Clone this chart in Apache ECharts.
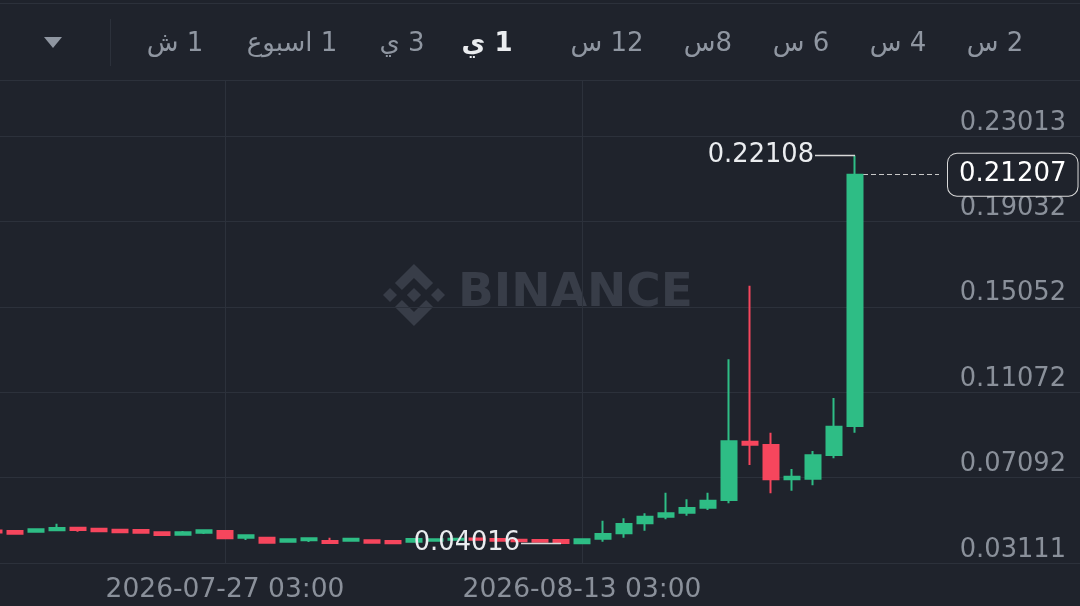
<!DOCTYPE html>
<html><head><meta charset="utf-8">
<script src="https://cdn.jsdelivr.net/npm/echarts@6/dist/echarts.min.js"></script>
<style>html,body{margin:0;padding:0;background:#1f232c}#c{width:1080px;height:606px}</style>
</head><body><div id="c"></div>
<script>
// ---- data ----
const dates = [
 '2026-07-16 03:00','2026-07-17 03:00','2026-07-18 03:00','2026-07-19 03:00','2026-07-20 03:00','2026-07-21 03:00',
 '2026-07-22 03:00','2026-07-23 03:00','2026-07-24 03:00','2026-07-25 03:00','2026-07-26 03:00','2026-07-27 03:00',
 '2026-07-28 03:00','2026-07-29 03:00','2026-07-30 03:00','2026-07-31 03:00','2026-08-01 03:00','2026-08-02 03:00',
 '2026-08-03 03:00','2026-08-04 03:00','2026-08-05 03:00','2026-08-06 03:00','2026-08-07 03:00','2026-08-08 03:00',
 '2026-08-09 03:00','2026-08-10 03:00','2026-08-11 03:00','2026-08-12 03:00','2026-08-13 03:00','2026-08-14 03:00',
 '2026-08-15 03:00','2026-08-16 03:00','2026-08-17 03:00','2026-08-18 03:00','2026-08-19 03:00','2026-08-20 03:00',
 '2026-08-21 03:00','2026-08-22 03:00','2026-08-23 03:00','2026-08-24 03:00','2026-08-25 03:00','2026-08-26 03:00'
];
const opens = [0.04626,0.04602,0.04570,0.04635,0.04756,0.04710,0.04663,0.04649,0.04542,0.04430,0.04523,0.04602,
 0.04290,0.04290,0.04104,0.04169,0.04136,0.04150,0.04169,0.04136,0.04104,0.04150,0.04190,0.04250,
 0.04235,0.04200,0.04180,0.04183,0.04029,0.04244,0.04495,0.04961,0.05269,0.05455,0.05688,0.06047,
 0.08764,0.08611,0.07012,0.07040,0.08144,0.09496];
const closes = [0.04533,0.04477,0.04682,0.04742,0.04649,0.04588,0.04542,0.04523,0.04416,0.04542,0.04635,0.04262,
 0.04402,0.04060,0.04216,0.04262,0.04043,0.04244,0.04057,0.04035,0.04229,0.04220,0.04245,0.04200,
 0.04150,0.04125,0.04104,0.04043,0.04216,0.04463,0.04929,0.05269,0.05427,0.05674,0.06015,0.08783,
 0.08625,0.07012,0.07133,0.08131,0.09464,0.21207];
const lows = [0.04520,0.04460,0.04560,0.04620,0.04570,0.04575,0.04530,0.04515,0.04405,0.04420,0.04463,0.04250,
 0.04183,0.04030,0.04095,0.04090,0.04035,0.04140,0.04045,0.04025,0.04095,0.04140,0.04180,0.04190,
 0.04140,0.04115,0.04095,0.04016,0.04020,0.04104,0.04290,0.04616,0.05148,0.05316,0.05581,0.05893,
 0.07678,0.06359,0.06481,0.06732,0.07991,0.09184];
const highs = [0.04640,0.04625,0.04700,0.04943,0.04770,0.04725,0.04680,0.04690,0.04555,0.04600,0.04645,0.04610,
 0.04410,0.04300,0.04225,0.04270,0.04290,0.04255,0.04180,0.04145,0.04240,0.04230,0.04255,0.04260,
 0.04245,0.04210,0.04190,0.04230,0.04230,0.05083,0.05194,0.05427,0.06387,0.06080,0.06387,0.12605,
 0.16035,0.09184,0.07492,0.08331,0.10801,0.22108];
const yTicks = [0.03111,0.07092,0.11072,0.15052,0.19032,0.23013];
const xLabelDates = ['2026-07-27 03:00','2026-08-13 03:00'];
const tabs = ['2 س','4 س','6 س','8س','12 س','1 ي','3 ي','1 اسبوع','1 ش'];
const selectedTab = '1 ي';

// ---- build ----
const FONT = 'DejaVu Sans';
const BG = '#1f232c', GRID = '#2c313b', AXIS_TXT = '#8a909a', UP = '#2ebd85', DOWN = '#f6465d';
const ohlc = dates.map((d, i) => [i, opens[i], closes[i], lows[i], highs[i]]);
const lastIdx = dates.length - 1;
const maxHigh = Math.max(...highs), minLow = Math.min(...lows);
const hiIdx = highs.indexOf(maxHigh), loIdx = lows.indexOf(minLow);
const xLabelIdx = xLabelDates.map(d => dates.indexOf(d));
// layout: 21px per candle, first candle centre 6px left of the frame
const STEP = 21, FIRST_X = -6;
const xAxisMin = -FIRST_X / STEP;             // index value at x = 0
const xAxisMax = xAxisMin + 1080 / STEP;      // index value at x = 1080
const tabX = [995, 898, 801, 708, 607, 487, 402, 292, 175];

const chart = echarts.init(document.getElementById('c'), null, {renderer: 'canvas'});
const logoShapes = [
  [[38.73,53.2],[63.3,28.63],[87.89,53.22],[102.19,38.92],[63.3,0],[24.42,38.91]],
  [[0,63.31],[14.3,49.01],[28.6,63.31],[14.3,77.61]],
  [[38.73,73.41],[63.3,97.99],[87.89,73.4],[102.19,87.7],[63.3,126.61],[24.42,87.72]],
  [[97.99,63.31],[112.29,49.01],[126.59,63.31],[112.29,77.61]],
  [[77.83,63.3],[63.3,48.77],[48.77,63.3],[63.3,77.83]]
];
const LOGO_S = 62 / 126.61, LOGO_X = 383, LOGO_Y = 264, WM = '#383d48';

const graphics = [
  {type:'line', shape:{x1:0,y1:3.5,x2:1080,y2:3.5}, style:{stroke:GRID,lineWidth:1}, silent:true},
  {type:'line', shape:{x1:0,y1:80.5,x2:1080,y2:80.5}, style:{stroke:GRID,lineWidth:1}, silent:true},
  {type:'line', shape:{x1:110.5,y1:19,x2:110.5,y2:66}, style:{stroke:GRID,lineWidth:1}, silent:true},
  {type:'polygon', shape:{points:[[44,37],[62,37],[53,48]]}, style:{fill:'#8f96a1'}, silent:true},
  {type:'text', z:-10, x:458, y:294, style:{text:'BINANCE', fill:WM, font:'bold 47px "DejaVu Sans"', textVerticalAlign:'middle', textAlign:'left'}, silent:true}
];
logoShapes.forEach(pts => graphics.push({type:'polygon', z:-10, silent:true,
  shape:{points: pts.map(p => [LOGO_X + p[0]*LOGO_S, LOGO_Y + p[1]*LOGO_S])}, style:{fill:WM}}));
tabs.forEach((t, i) => {
  const sel = t === selectedTab;
  graphics.push({type:'text', x: tabX[i], y: 44, silent:true,
    style:{text:'\u202B' + t + '\u202C', fill: sel ? '#eaecef' : '#8f96a1',
      font:(sel ? 'bold ' : '') + '26px "DejaVu Sans"', textAlign:'center', textVerticalAlign:'middle'}});
});

chart.setOption({
  backgroundColor: BG,
  animation: false,
  textStyle: {fontFamily: FONT},
  graphic: graphics,
  grid: {left: 0, right: 0, top: 80, bottom: 43, containLabel: false},
  xAxis: {
    type: 'value', min: xAxisMin, max: xAxisMax, scale: true,
    axisLine: {show: true, onZero: false, lineStyle: {color: GRID, width: 1}},
    axisTick: {show: false, customValues: xLabelIdx},
    axisLabel: {color: AXIS_TXT, fontSize: 26.5, fontFamily: FONT, margin: 14,
      customValues: xLabelIdx, formatter: v => dates[Math.round(v)]},
    splitLine: {show: true, lineStyle: {color: GRID, width: 1}}
  },
  yAxis: {
    type: 'value', position: 'right', min: 0.03111, max: 0.25622, scale: true,
    axisLine: {show: false},
    axisTick: {show: false, customValues: yTicks},
    axisLabel: {inside: true, margin: 14, color: AXIS_TXT, fontSize: 25.7, fontFamily: FONT,
      verticalAlign: 'bottom', customValues: yTicks, formatter: v => v.toFixed(5)},
    splitLine: {show: true, lineStyle: {color: GRID, width: 1}}
  },
  series: [{
    type: 'candlestick', data: ohlc, barWidth: 16, z: 2,
    encode: {x: 0, y: [1, 2, 3, 4]},
    itemStyle: {color: UP, color0: DOWN, borderColor: UP, borderColor0: DOWN, borderWidth: 2},
    markPoint: {
      symbol: 'rect', symbolSize: [40, 1.5], symbolOffset: [-20, 0], silent: true, z: 6,
      itemStyle: {color: '#d8d8d8'},
      label: {show: true, position: 'left', distance: 1, color: '#eaecef', fontSize: 25.7, fontFamily: FONT,
        formatter: p => p.value.toFixed(5)},
      data: [
        {coord: [hiIdx, maxHigh], value: maxHigh},
        {coord: [loIdx, minLow], value: minLow}
      ]
    },
    markLine: {
      silent: true, z: 1, symbol: ['none', 'none'],
      lineStyle: {color: '#c8c8c8', type: [5, 3], width: 1},
      label: {show: true, position: 'end', distance: 9, color: '#ffffff', fontSize: 26, fontFamily: FONT,
        backgroundColor: BG, borderColor: '#d9d9d9', borderWidth: 1, borderRadius: 9, padding: [8, 11, 8, 11],
        formatter: () => closes[lastIdx].toFixed(5)},
      data: [[{coord: [lastIdx, closes[lastIdx]]}, {coord: [lastIdx + 4, closes[lastIdx]]}]]
    }
  }]
});
</script></body></html>
